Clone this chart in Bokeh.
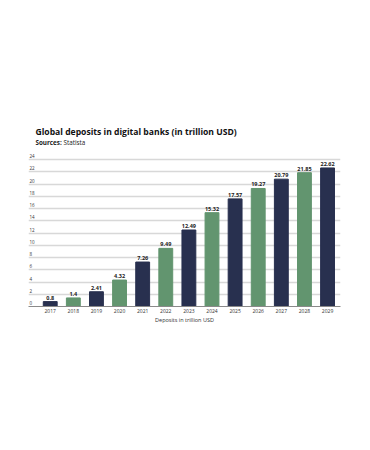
from bokeh.plotting import figure
from bokeh.models import ColumnDataSource, Range1d, Label, Spacer, FixedTicker
from bokeh.layouts import column
from bokeh.embed import file_html
from bokeh.resources import INLINE
from bokeh.core.properties import value

years = ["2017", "2018", "2019", "2020", "2021", "2022", "2023", "2024", "2025", "2026", "2027", "2028", "2029"]
deposits = [0.8, 1.4, 2.41, 4.32, 7.26, 9.49, 12.49, 15.32, 17.57, 19.27, 20.79, 21.85, 22.62]
value_labels = ["0.8", "1.4", "2.41", "4.32", "7.26", "9.49", "12.49", "15.32", "17.57", "19.27", "20.79", "21.85", "22.62"]
y_ticks = [0, 2, 4, 6, 8, 10, 12, 14, 16, 18, 20, 22, 24]
y_tick_labels = ["0", "2", "4", "6", "8", "10", "12", "14", "16", "18", "20", "22", "24"]

NAVY = "#28304f"
GREEN = "#62956f"
FONT = "Open Sans"
PX = 6.125               # pixels per unit
X0, X1 = -0.94, 12.56
FRAME_H = 184
YTOP = FRAME_H / PX

xs = list(range(len(years)))
colors = [NAVY if i % 2 == 0 else GREEN for i in xs]
src = ColumnDataSource(dict(x=xs, top=deposits, lab=value_labels, color=colors))
tick_src = ColumnDataSource(dict(y=y_ticks, lab=y_tick_labels))

p = figure(frame_width=312, frame_height=FRAME_H, output_backend="svg", toolbar_location=None,
           x_range=Range1d(X0, X1), y_range=Range1d(0, YTOP),
           min_border_left=28, min_border_right=10, min_border_top=0, min_border_bottom=0)
p.outline_line_color = None
p.background_fill_color = "white"
p.border_fill_color = "white"

title_y = (306 - 131.5) / PX
src_y = (306 - 142) / PX
p.add_layout(Label(x=X0, y=title_y, x_offset=7, text="Global deposits in digital banks (in trillion USD)",
                   text_font=FONT, text_font_size="8.6px", text_font_style="bold", text_color="#111111",
                   text_baseline="middle", text_align="left"))
p.add_layout(Label(x=X0, y=src_y, x_offset=7, text="Sources:",
                   text_font=FONT, text_font_size="6.3px", text_font_style="bold", text_color="#222222",
                   text_baseline="middle", text_align="left"))
p.add_layout(Label(x=X0, y=src_y, x_offset=35, text="Statista",
                   text_font=FONT, text_font_size="6.3px", text_font_style="normal", text_color="#222222",
                   text_baseline="middle", text_align="left"))

p.yaxis.visible = False
p.ygrid.ticker = FixedTicker(ticks=y_ticks)
p.ygrid.grid_line_color = "#d8d8d8"
p.ygrid.grid_line_width = 1.5
p.xgrid.visible = False

p.xaxis.ticker = FixedTicker(ticks=xs)
p.xaxis.major_label_overrides = {i: y for i, y in zip(xs, years)}
p.xaxis.major_tick_line_color = None
p.xaxis.major_tick_out = 0
p.xaxis.major_tick_in = 0
p.xaxis.minor_tick_line_color = None
p.xaxis.axis_line_color = "#8a8a8a"
p.xaxis.axis_line_width = 1.2
p.xaxis.major_label_text_font = FONT
p.xaxis.major_label_text_font_size = "5px"
p.xaxis.major_label_text_color = "#333333"
p.xaxis.major_label_standoff = 2
p.xaxis.axis_label = "Deposits in trillion USD"
p.xaxis.axis_label_text_font = FONT
p.xaxis.axis_label_text_font_size = "5.5px"
p.xaxis.axis_label_text_font_style = "normal"
p.xaxis.axis_label_text_color = "#333333"
p.xaxis.axis_label_standoff = 0

p.vbar(x="x", top="top", width=0.6, bottom=0, color="color", source=src)
p.text(x="x", y="top", text="lab", source=src, text_align="center", text_baseline="bottom",
       y_offset=-2, text_font=value(FONT), text_font_size="5.5px", text_font_style="bold",
       text_color="#222222")
p.text(x=X0, y="y", text="lab", source=tick_src, text_align="left", text_baseline="bottom",
       x_offset=1, y_offset=-1.5, text_font=value(FONT), text_font_size="4.5px", text_color="#333333")

layout = column(Spacer(height=306 - FRAME_H, width=350), p)
open("out.html", "w").write(file_html(layout, INLINE))
